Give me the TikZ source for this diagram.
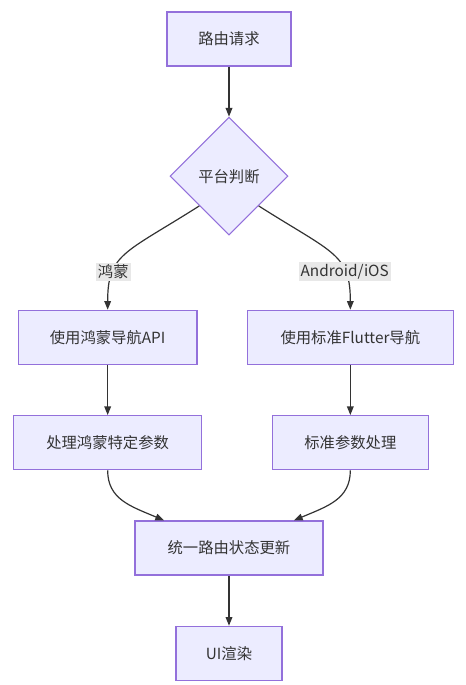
\documentclass[tikz,border=0pt]{standalone}
\usepackage{fontspec}
\setmainfont{Noto Sans CJK SC}
\usetikzlibrary{shapes.geometric, positioning, arrows.meta}
\definecolor{nodefill}{HTML}{ECECFF}
\definecolor{nodeline}{HTML}{9370DB}
\definecolor{edgeline}{HTML}{333333}
\definecolor{lblfill}{HTML}{E8E8E8}
\tikzstyle{proc}=[rectangle, align=center, fill=nodefill, draw=nodeline, line width=1pt, minimum height=40.5pt, text=edgeline]
\tikzstyle{cond}=[diamond, align=center, aspect=1, fill=nodefill, draw=nodeline, line width=0.8pt, minimum size=88.5pt, inner sep=0pt, text=edgeline]
\tikzstyle{lbl}=[rectangle, anchor=center, fill=lblfill, inner sep=1.5pt, text=edgeline]
\tikzstyle{freccia}=[-{Triangle[length=6.5pt, width=5pt]}, line width=0.9pt, draw=edgeline]
\newcommand{\dimg}{\fontsize{11.5}{14}\selectfont}

\begin{document}
\begin{tikzpicture}
    \useasboundingbox (-171.75pt,29.25pt) rectangle (177.75pt,-484.5pt);

    \node [proc, font = \dimg, minimum width = 93pt] (req) {路由请求};
    \node [cond, below = 37.5pt of req, font = \dimg] (plat) {平台判断};
    \draw [freccia] (req) -- (plat);

    \node [proc, below = 55.5pt of plat, xshift = -91pt, font = \dimg, minimum width = 134pt] (hmnav) {使用鸿蒙导航API};
    \node [proc, below = 55.5pt of plat, xshift = 91pt, font = \dimg, minimum width = 154.5pt] (flnav) {使用标准Flutter导航};
    \draw [freccia] (plat.south west) .. controls +(-56pt,-35.6pt) and +(0,42pt) .. node [lbl, pos = 0.7, font = \dimg] {鸿蒙} (hmnav.north);
    \draw [freccia] (plat.south east) .. controls +(56pt,-35.6pt) and +(0,42pt) .. node [lbl, pos = 0.7, font = \dimg] {Android/iOS} (flnav.north);

    \node [proc, below = 37.5pt of hmnav, font = \dimg, minimum width = 141pt] (hmpar) {处理鸿蒙特定参数};
    \node [proc, below = 37.5pt of flnav, font = \dimg, minimum width = 117pt] (flpar) {标准参数处理};
    \draw [freccia] (hmnav) -- (hmpar);
    \draw [freccia] (flnav) -- (flpar);

    \node [proc, below = 37.5pt of hmpar, xshift = 91pt, font = \dimg, minimum width = 141pt] (state) {统一路由状态更新};
    \draw [freccia] (hmpar.south) .. controls +(0,-21.75pt) and +(-24.75pt,10.5pt) .. ([xshift=-48.75pt]state.north);
    \draw [freccia] (flpar.south) .. controls +(0,-21.75pt) and +(24.75pt,10.5pt) .. ([xshift=48.75pt]state.north);

    \node [proc, below = 37.5pt of state, font = \dimg, minimum width = 79.5pt] (ui) {UI渲染};
    \draw [freccia] (state) -- (ui);
  \end{tikzpicture}
\end{document}
